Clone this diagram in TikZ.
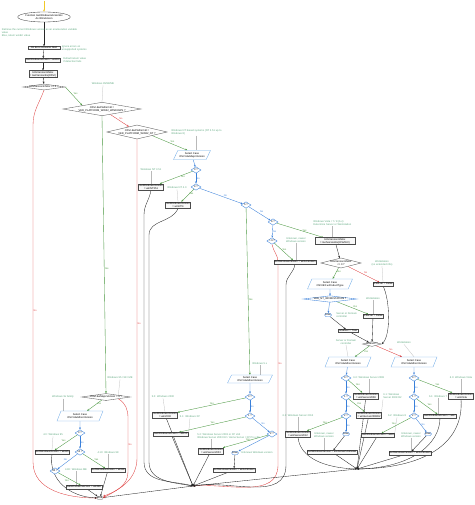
\documentclass[tikz,border=0pt]{standalone}
\usepackage{fontspec}
\setmainfont{Liberation Sans}
\usetikzlibrary{shapes.geometric,arrows.meta,backgrounds}
\definecolor{ygreen}{RGB}{72,150,62}
\definecolor{nred}{RGB}{222,64,64}
\definecolor{cblue}{RGB}{58,128,218}
\definecolor{lblue}{RGB}{112,172,232}
\definecolor{notecol}{RGB}{96,168,128}
\definecolor{startc}{RGB}{240,200,40}
\newcommand\dgfont{\fontsize{2.6}{3.0}\selectfont}
\newcommand\lbfont{\fontsize{2.4}{2.8}\selectfont}
\tikzset{
 dgbase/.style={font=\dgfont, align=center},
 pbox/.style={dgbase, rectangle, draw=black!70, fill=gray!5, line width=0.3pt, inner sep=0.7pt},
 bigdia/.style={dgbase, diamond, draw=black!65, fill=white, line width=0.35pt, inner sep=0pt},
 cdia/.style={dgbase, diamond, draw=cblue, fill=white, line width=0.35pt, inner sep=0pt, aspect=1.5, minimum width=10pt, minimum height=6.5pt},
 prl/.style={dgbase, trapezium, trapezium left angle=55, trapezium right angle=125, trapezium stretches body, draw=lblue, fill=white, line width=0.35pt, inner sep=0.4pt},
 elsen/.style={dgbase, rectangle, rounded corners=1.5pt, draw=cblue, fill=white, line width=0.35pt, inner sep=0.8pt},
 note/.style={dgbase, text=notecol, inner sep=0.2pt},
 nl/.style={draw=gray!55, line width=0.25pt},
 edg/.style={line width=0.35pt, -{Stealth[length=2.2pt,width=1.8pt]}},
 yes/.style={edg, draw=ygreen},
 no/.style={edg, draw=nred},
 cno/.style={edg, draw=cblue},
 pl/.style={edg, draw=black!85},
 lab/.style={font=\lbfont, inner sep=0.4pt},
 ly/.style={lab, text=ygreen},
 ln/.style={lab, text=nred},
 lc/.style={lab, text=cblue},
}
\begin{document}
\begin{tikzpicture}[x=1pt,y=-1pt]
\useasboundingbox (0,0) rectangle (474,505);

% ---------- top ----------
\coordinate (st) at (44,0.8);
\node[dgbase, ellipse, draw=black!75, fill=white, line width=0.35pt, inner sep=0pt, minimum width=50pt, minimum height=10pt] (ell) at (44,17) {Function GetWindowsVersionEx\\As WinVersion};
\node[note, align=left, anchor=north west] (n0) at (1.5,28.5) {Retrieve the current Windows version as an enumeration variable\\value\\Else, return winErr value};
\node[pbox, minimum width=32pt] (b1) at (44,48) {On Error Resume Next};
\node[note, align=left, anchor=west] (n1) at (61.5,48) {Ignore errors on\\unsupported systems};
\node[pbox] (b2) at (43,60) {GetWindowsVersion = winErr};
\node[note, align=left, anchor=west] (n2) at (63,60) {Default return value\\if detection fails};
\node[pbox] (b3) at (43,74) {bOsVersionInfoEx\\= GetVersionEx(OSVI)};
\node[bigdia, aspect=7] (D1) at (44,87) {bOsVersionInfoEx <> 0 ?};
\node[note] (nD2) at (103,84) {Windows 95/98/ME};
\node[bigdia, aspect=5.8] (D2) at (102,109) {OSVI.dwPlatformId =\\VER\_PLATFORM\_WIN32\_WINDOWS ?};
\node[bigdia, aspect=4.3] (D3) at (137,132) {OSVI.dwPlatformId =\\VER\_PLATFORM\_WIN32\_NT ?};
\node[note, anchor=north west, align=left] (nD3) at (171,129.5) {Windows NT based systems (NT 3.51 up to\\Windows 8)};

% ---------- NT major version chain ----------
\node[prl, minimum width=37pt, minimum height=9pt] (P1) at (192,155) {Select Case\\OSVI.dwMajorVersion};
\node[cdia] (ca3) at (196,170) {3 ?};
\node[cdia] (cb4) at (196,187) {4 ?};
\node[cdia] (cc5) at (246,205) {5 ?};
\node[cdia] (cd6) at (273,222) {6 ?};
\node[cdia, aspect=2.5] (ce) at (272,241) {> 6 ?};
\node[note] (nca3) at (151,170) {Windows NT 3.51};
\node[pbox] (b351) at (151,187) {GetWindowsVersion\\= winNT351};
\node[note] (ncb4) at (177,188) {Windows NT 4.0};
\node[pbox] (b4) at (178,205) {GetWindowsVersion\\= winNT4};
\node[note, anchor=north west, align=left] (ncd6) at (313,220.5) {Windows Vista / 7 / 8 (6.x):\\Determine Server or Workstation};
\node[pbox, minimum width=40pt] (b6) at (335,241) {bOsVersionInfoEx\\= GetVersionEx(OSVIEX)};
\node[note] (nbunk) at (296,240.5) {Unknown, newer\\Windows version};
\node[pbox, minimum width=40pt] (bunk) at (295,262) {GetWindowsVersion = winUnknown};

% ---------- server / workstation ----------
\node[bigdia, aspect=4] (D4) at (341,263) {bOsVersionInfoEx\\<> 0 ?};
\node[note] (nwsF) at (382,263) {Workstation\\(no extended info)};
\node[pbox] (wsF) at (383,284) {IsServer = False};
\node[prl, minimum width=45pt, minimum height=10pt] (P3) at (330,284) {Select Case\\OSVIEX.wProductType};
\node[cdia, aspect=9] (dc) at (330,299) {VER\_NT\_WORKSTATION ?};
\node[note] (nsrvF) at (373,298.5) {Workstation};
\node[pbox] (srvF) at (373,316) {IsServer = False};
\node[elsen] (elseA) at (328,315) {Else};
\node[note, anchor=west, align=left] (nelseA) at (336,315.5) {Server or Domain\\controller};
\node[pbox] (srvT) at (348,331) {IsServer = True};
\node[bigdia, aspect=4] (mg) at (372,344) {IsServer ?};
\node[note] (nP4) at (346,342) {Server or Domain\\controller};
\node[note] (nP5) at (404,343) {Workstation};
\node[prl, minimum width=46pt, minimum height=10pt] (P4) at (348,362) {Select Case\\OSVI.dwMinorVersion};
\node[prl, minimum width=46pt, minimum height=10pt] (P5) at (414,362) {Select Case\\OSVI.dwMinorVersion};

% server chain
\node[cdia] (s0) at (346,378) {0 ?};
\node[cdia] (s1) at (346,397) {1 ?};
\node[cdia] (s2) at (346,416) {2 ?};
\node[elsen] (sE) at (346,434) {Else};
\node[note, anchor=west] (ns0) at (353,378) {6.0: Windows Server 2008};
\node[pbox] (bs08) at (366,396) {GetWindowsVersion\\= winServer2008};
\node[note, anchor=west, align=left] (ns1) at (383,396.5) {6.1: Windows\\Server 2008 R2};
\node[pbox] (bs08r2) at (369,415) {GetWindowsVersion\\= winServer2008R2};
\node[note] (ns2) at (298,416) {6.2: Windows Server 2012};
\node[pbox] (bs12) at (298,434) {GetWindowsVersion\\= winServer2012};
\node[note] (nsE) at (324,435) {Unknown, newer\\Windows version};
\node[pbox] (bsU) at (332,452) {GetWindowsVersion = winServerUnknown};

% workstation chain
\node[cdia] (w0) at (414,378) {0 ?};
\node[cdia] (w1) at (414,397) {1 ?};
\node[cdia] (w2) at (414,416) {2 ?};
\node[elsen] (wE) at (428,434) {Else};
\node[note] (nw0) at (461,378) {6.0: Windows Vista};
\node[pbox] (bvista) at (461,396) {GetWindowsVersion\\= winVista};
\node[note] (nw1) at (438,397) {6.1: Windows 7};
\node[pbox] (b7) at (440,416) {GetWindowsVersion = win7};
\node[note] (nw2) at (397,416) {6.2: Windows 8};
\node[pbox] (b8) at (378,435) {GetWindowsVersion = win8};
\node[note] (nwE) at (411,435) {Unknown, newer\\Windows version};
\node[pbox] (bwU) at (410,453) {GetWindowsVersion = winUnknown};

\coordinate (End3) at (357,469);
\coordinate (End2) at (193,486);

% ---------- NT 5.x chain ----------
\node[note, anchor=west] (nP2) at (252,364) {Windows 5.x};
\node[prl, minimum width=45pt, minimum height=8pt] (P2) at (250,379) {Select Case\\OSVI.dwMinorVersion};
\node[cdia] (c0) at (250,397) {0 ?};
\node[cdia] (c1) at (250,416) {1 ?};
\node[cdia] (c2) at (272,434) {2 ?};
\node[elsen] (cE) at (235,453) {Else};
\node[note] (nc0) at (163,397) {5.0: Windows 2000};
\node[pbox] (b2000) at (165,415) {GetWindowsVersion\\= win2000};
\node[note] (nc1) at (190,416.5) {5.1: Windows XP};
\node[pbox] (bxp) at (171,434) {GetWindowsVersion = winXP};
\node[note, anchor=north west, align=left] (nc2) at (197,433.5) {5.2: Windows Server 2003 or XP x64\\Windows Server 2003 R2 / Home Server / XP Pro x64};
\node[pbox] (b2003) at (211,451) {GetWindowsVersion\\= winServer2003};
\node[note, anchor=west] (ncE) at (241,453) {Unknown Windows version};
\node[pbox] (bU5) at (234,470) {GetWindowsVersion = winUnknown};

% ---------- Windows 9x chain ----------
\node[note] (nDB) at (120,378) {Windows 95 / 98 / ME};
\node[bigdia, aspect=7] (DB) at (106,397) {OSVI.dwMajorVersion = 4 ?};
\node[note] (nP6) at (63,397) {Windows 9x family};
\node[prl, minimum width=46pt, minimum height=10pt] (P6) at (80,416) {Select Case\\OSVI.dwMinorVersion};
\node[cdia] (m0) at (80,433) {0 ?};
\node[cdia] (m10) at (80,452) {10 ?};
\node[cdia] (m90) at (55,471) {90 ?};
\node[note] (nm0) at (53,435) {4.0: Windows 95};
\node[pbox] (b95) at (52,452) {GetWindowsVersion = win95};
\node[note] (nm10) at (108,453) {4.10: Windows 98};
\node[pbox] (b98) at (108,470) {GetWindowsVersion = win98};
\node[note] (nm90) at (76,470) {4.90: Windows ME};
\node[pbox] (bME) at (84,487) {GetWindowsVersion = winME};
\node[pbox, rounded corners=1pt, inner sep=0.6pt] (End1) at (100,498) {End};

\begin{pgfonlayer}{background}
% note lines
\draw[nl] (nD2.south) -- (D2.north);
\draw[nl] (nD3.south) -- (nD3.south |- P1.north);
\draw[nl] (nca3.south) -- (b351.north);
\draw[nl] (ncb4.south) -- (b4.north);
\draw[nl] (ncd6.south) -- (ncd6.south |- b6.north);
\draw[nl] (nbunk.south) -- (nbunk.south |- bunk.north);
\draw[nl] (nwsF.south) -- (wsF.north);
\draw[nl] (nsrvF.south) -- (srvF.north);
\draw[nl] (nP4.south) -- (P4.north);
\draw[nl] (nP5.south) -- (P5.north);
\draw[nl] (ns0.south) -- (ns0.south |- bs08.north);
\draw[nl] (ns1.south west) -- (bs08r2.north east);
\draw[nl] (ns2.south) -- (bs12.north);
\draw[nl] (nsE.south) -- (nsE.south |- bsU.north);
\draw[nl] (nw0.south) -- (bvista.north);
\draw[nl] (nw1.south) -- (nw1.south |- b7.north);
\draw[nl] (nw2.south) -- (b8.north east);
\draw[nl] (nwE.south) -- (nwE.south |- bwU.north);
\draw[nl] (nP2.south) -- (nP2.south |- P2.north);
\draw[nl] (nc0.south) -- (b2000.north);
\draw[nl] (nc1.south) -- (bxp.north east);
\draw[nl] (b2003.north) -- (b2003.north |- nc2.south);
\draw[nl] (nDB.south) -- (DB.north east);
\draw[nl] (nP6.south) -- (nP6.south |- P6.north);
\draw[nl] (nm0.south) -- (b95.north);
\draw[nl] (nm10.south) -- (b98.north);
\draw[nl] (nm90.south) -- (nm90.south |- bME.north);

% main flow
\draw[edg, draw=startc] (st) -- (ell);
\draw[pl] (ell) -- (b1);
\draw[pl] (b1) -- (b2);
\draw[pl] (b2) -- (b3);
\draw[pl] (b3) -- (D1);
\draw[yes] (D1.east) -- node[ly, above right, pos=0.45] {Yes} (D2.north west);
\draw[no] (D1.south) to[out=-110,in=90] (33,125) -- node[ln, right, pos=0.55] {No} (33,462) to[out=-90,in=180] (End1.west);
\draw[yes] (D2.south) -- node[ly, right, pos=0.55] {Yes} (DB.north);
\draw[no] (D2) -- node[ln, above right, pos=0.45] {No} (D3);
\draw[yes] (D3.south east) -- node[ly, above right, pos=0.5] {Yes} (P1.north west);
\draw[no] (D3.south) -- node[ln, right, pos=0.58] {No} (137,458) to[out=-90,in=20] (End1.north east);

% NT major chain
\draw[cno] (P1) -- (ca3);
\draw[yes] (ca3) -- node[ly, below, pos=0.3] {Yes} (b351);
\draw[cno] (ca3) -- node[lc, right] {No} (cb4);
\draw[yes] (cb4) -- node[ly, right, pos=0.4] {Yes} (b4);
\draw[cno] (cb4) -- node[lc, above, pos=0.6] {No} (cc5);
\draw[cno] (cc5) -- node[lc, above right, pos=0.5] {No} (cd6);
\draw[yes] (cc5) -- node[ly, right, pos=0.55] {Yes} (P2);
\draw[cno] (cd6) -- node[lc, right] {No} (ce);
\draw[yes] (cd6) -- node[ly, above, pos=0.6] {Yes} (b6);
\draw[yes] (ce) -- node[ly, right, pos=0.4] {Yes} (bunk);
\draw[no] (ce.south) to[out=-80,in=90] (278,262) -- node[ln, right, pos=0.5] {No} (278,465) to[out=-90,in=5] (End2);
\draw[pl] (bunk.south) to[out=-95,in=90] (286,285) -- (286,465) to[out=-90,in=10] (End2);
\draw[pl] (b351.south) to[out=-100,in=90] (144,215) -- (144,462) to[out=-90,in=165] (End2);
\draw[pl] (b4.south) to[out=-110,in=90] (149,235) -- (149,462) to[out=-90,in=170] (End2);

% server / workstation
\draw[pl] (b6) -- (D4);
\draw[yes] (D4) -- node[ly, right, pos=0.4] {Yes} (P3);
\draw[no] (D4) -- node[ln, above right, pos=0.5] {No} (wsF);
\draw[cno] (P3) -- (dc);
\draw[yes] (dc) -- node[ly, above right, pos=0.5] {Yes} (srvF);
\draw[cno] (dc) -- (elseA);
\draw[pl] (elseA) -- (srvT);
\draw[pl] (srvT) -- (mg);
\draw[pl] (srvF) -- (mg);
\draw[pl] (wsF.south) .. controls (390,300) and (391,335) .. (mg.east);
\draw[yes] (mg) -- node[ly, below right, pos=0.4] {Yes} (P4);
\draw[no] (mg) -- node[ln, above right, pos=0.5] {No} (P5);

\draw[cno] (P4) -- (s0);
\draw[yes] (s0) -- node[ly, above right, pos=0.5] {Yes} (bs08);
\draw[cno] (s0) -- node[lc, right] {No} (s1);
\draw[yes] (s1) -- node[ly, above right, pos=0.5] {Yes} (bs08r2);
\draw[cno] (s1) -- node[lc, right] {No} (s2);
\draw[yes] (s2) -- node[ly, above, pos=0.5] {Yes} (bs12);
\draw[cno] (s2) -- node[lc, right] {No} (sE);
\draw[pl] (sE) -- (bsU);

\draw[cno] (P5) -- (w0);
\draw[yes] (w0) -- node[ly, above right, pos=0.5] {Yes} (bvista);
\draw[cno] (w0) -- node[lc, right] {No} (w1);
\draw[yes] (w1) -- node[ly, above right, pos=0.5] {Yes} (b7);
\draw[cno] (w1) -- node[lc, right] {No} (w2);
\draw[yes] (w2) -- node[ly, above left, pos=0.5] {Yes} (b8);
\draw[cno] (w2) -- node[lc, right] {No} (wE);
\draw[pl] (wE) -- (bwU);

\draw[pl] (bs08) -- (End3);
\draw[pl] (bs08r2) -- (End3);
\draw[pl] (bs12.south) .. controls (300,458) and (325,468) .. (End3);
\draw[pl] (bsU) -- (End3);
\draw[pl] (bvista.south) .. controls (464,440) and (430,468) .. (End3);
\draw[pl] (b7.south) .. controls (440,445) and (410,468) .. (End3);
\draw[pl] (b8) -- (End3);
\draw[pl] (bwU) -- (End3);
\draw[pl] (End3) -- (End2);

% NT 5.x chain
\draw[cno] (P2) -- (c0);
\draw[yes] (c0) -- node[ly, above, pos=0.5] {Yes} (b2000);
\draw[cno] (c0) -- node[lc, right] {No} (c1);
\draw[yes] (c1) -- node[ly, above, pos=0.5] {Yes} (bxp);
\draw[cno] (c1) -- node[lc, above right] {No} (c2);
\draw[yes] (c2) -- node[ly, above, pos=0.45] {Yes} (b2003);
\draw[cno] (c2) -- (cE);
\draw[pl] (cE) -- (bU5);
\draw[pl] (b2000) -- (End2);
\draw[pl] (bxp) -- (End2);
\draw[pl] (b2003) -- (End2);
\draw[pl] (bU5) -- (End2);
\draw[pl] (End2) -- (End1);

% Windows 9x chain
\draw[yes] (DB) -- node[ly, right, pos=0.35] {Yes} (P6);
\draw[no] (DB.south east) to[out=-30,in=90] (128,418) -- node[ln, right, pos=0.5] {No} (128,472) to[out=-90,in=30] (End1.east);
\draw[cno] (P6) -- (m0);
\draw[yes] (m0) -- node[ly, above left, pos=0.5] {Yes} (b95);
\draw[cno] (m0) -- node[lc, right] {No} (m10);
\draw[yes] (m10) -- node[ly, above right, pos=0.5] {Yes} (b98);
\draw[cno] (m10) -- node[lc, above left, pos=0.5] {No} (m90);
\draw[yes] (m90) -- node[ly, below left, pos=0.5] {Yes} (bME);
\draw[pl] (b95.south) .. controls (48,480) and (70,497) .. (End1);
\draw[pl] (b98) -- (End1);
\draw[pl] (bME) -- (End1);
\end{pgfonlayer}
\end{tikzpicture}
\end{document}
